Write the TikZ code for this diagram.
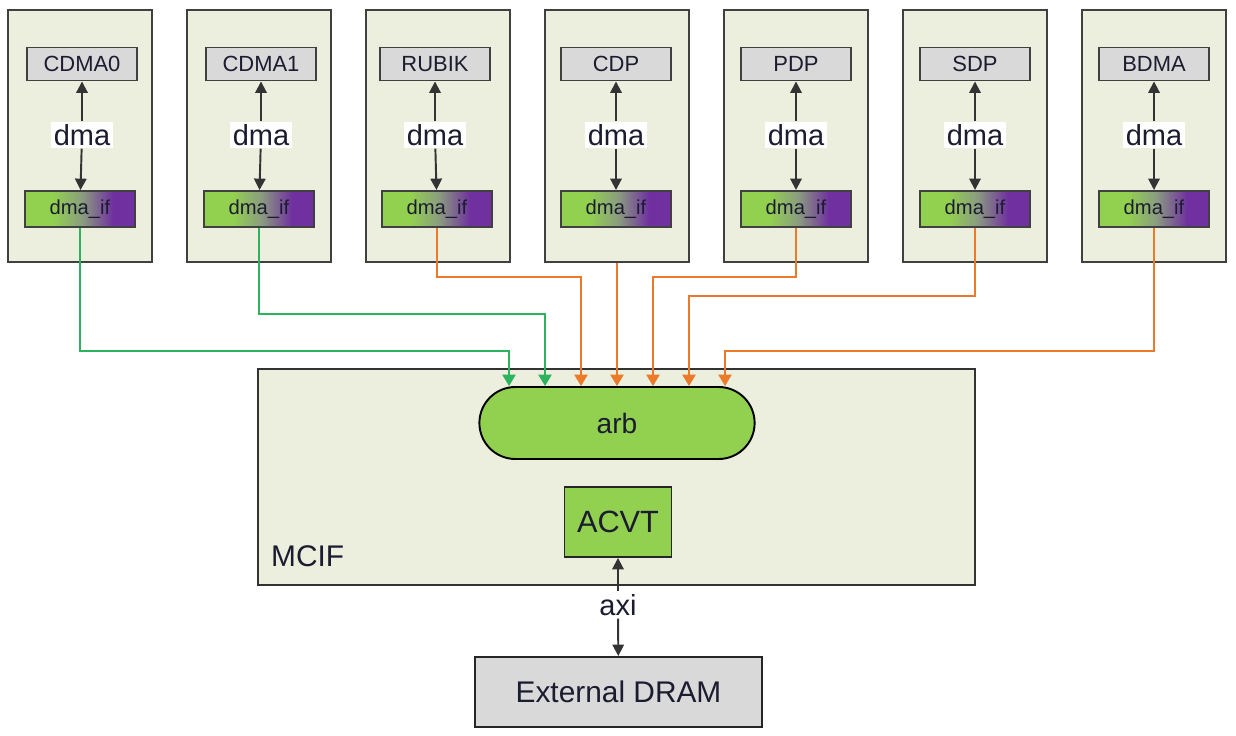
\documentclass[tikz,border=0pt]{standalone}
\usepackage{fontspec}
\setmainfont{Liberation Sans}
\usepackage{tikz}
\usetikzlibrary{arrows.meta}
\usetikzlibrary{calc}
\usetikzlibrary{shapes.misc}

\definecolor{unitbg}{HTML}{ECEFDE}
\definecolor{namebg}{HTML}{D9D9D9}
\definecolor{ifgreen}{HTML}{92D050}
\definecolor{ifmid}{HTML}{8A9C80}
\definecolor{ifpurple}{HTML}{7030A0}
\definecolor{rdgreen}{HTML}{2DB35E}
\definecolor{rdorange}{HTML}{EB7A2A}
\definecolor{txtcol}{HTML}{1C1C30}

\pgfdeclarehorizontalshading{ifshade}{100bp}{color(0bp)=(ifgreen); color(25bp)=(ifgreen); color(38bp)=(ifgreen); color(51bp)=(ifmid); color(65bp)=(ifpurple); color(100bp)=(ifpurple)}

\tikzset{
  unit/.style={draw=black!75, line width=1.1pt, fill=unitbg, minimum width=2.88cm, minimum height=5.04cm, inner sep=0pt},
  unitname/.style={draw=black!75, line width=1.1pt, fill=namebg, minimum width=2.2cm, minimum height=0.66cm, inner sep=0pt, text=txtcol, font=\fontsize{12.5}{12.5}\selectfont},
  dmaif/.style={draw=black!75, line width=1.1pt, shading=ifshade, shading angle=0, minimum width=2.2cm, minimum height=0.72cm, inner sep=0pt, text=txtcol, font=\fontsize{11.5}{11.5}\selectfont},
  buslbl/.style={fill=white, inner sep=1.5pt, text=txtcol, font=\fontsize{16.5}{16.5}\selectfont},
  bus/.style={draw=black!80, line width=1.1pt, -{Triangle[length=6.5pt,width=6.5pt]}},
  rdgrn/.style={draw=rdgreen, line width=1.1pt, -{Triangle[length=6.5pt,width=7.5pt]}},
  rdorg/.style={draw=rdorange, line width=1.1pt, -{Triangle[length=6.5pt,width=7.5pt]}}
}

\begin{document}
\begin{tikzpicture}[x=0.02cm, y=-0.02cm]
\useasboundingbox (0,0) rectangle (1236,736);

% the seven clients
\node[unit] (unit0) at (80,136) {};
\node[unitname] (name0) at (82,64) {CDMA0};
\node[buslbl] (dma0) at (82,135) {dma};
\node[dmaif] (if0) at (80,209) {dma\_if};
\draw[bus] (dma0) -- (name0);
\draw[bus] (dma0) -- (if0);

\node[unit] (unit1) at (259,136) {};
\node[unitname] (name1) at (261,64) {CDMA1};
\node[buslbl] (dma1) at (261,135) {dma};
\node[dmaif] (if1) at (259,209) {dma\_if};
\draw[bus] (dma1) -- (name1);
\draw[bus] (dma1) -- (if1);

\node[unit] (unit2) at (438,136) {};
\node[unitname] (name2) at (435,64) {RUBIK};
\node[buslbl] (dma2) at (435,135) {dma};
\node[dmaif] (if2) at (437,209) {dma\_if};
\draw[bus] (dma2) -- (name2);
\draw[bus] (dma2) -- (if2);

\node[unit] (unit3) at (617,136) {};
\node[unitname] (name3) at (616,64) {CDP};
\node[buslbl] (dma3) at (616,135) {dma};
\node[dmaif] (if3) at (616,209) {dma\_if};
\draw[bus] (dma3) -- (name3);
\draw[bus] (dma3) -- (if3);

\node[unit] (unit4) at (796,136) {};
\node[unitname] (name4) at (796,64) {PDP};
\node[buslbl] (dma4) at (796,135) {dma};
\node[dmaif] (if4) at (796,209) {dma\_if};
\draw[bus] (dma4) -- (name4);
\draw[bus] (dma4) -- (if4);

\node[unit] (unit5) at (975,136) {};
\node[unitname] (name5) at (975,64) {SDP};
\node[buslbl] (dma5) at (975,135) {dma};
\node[dmaif] (if5) at (975,209) {dma\_if};
\draw[bus] (dma5) -- (name5);
\draw[bus] (dma5) -- (if5);

\node[unit] (unit6) at (1154,136) {};
\node[unitname] (name6) at (1154,64) {BDMA};
\node[buslbl] (dma6) at (1154,135) {dma};
\node[dmaif] (if6) at (1154,209) {dma\_if};
\draw[bus] (dma6) -- (name6);
\draw[bus] (dma6) -- (if6);

% memory interface
\node[draw=black!80, line width=1.1pt, fill=unitbg, minimum width=14.34cm, minimum height=4.32cm, inner sep=0pt] (mcif) at (616.5,477) {};
\node[anchor=base west, text=txtcol, font=\fontsize{17}{17}\selectfont] (mciflbl) at (265,566) {MCIF};
\node[rounded rectangle, draw=black, line width=1.1pt, fill=ifgreen, minimum width=5.74cm, minimum height=1.44cm, text=txtcol, font=\fontsize{16}{16}\selectfont] (arb) at (617,423) {arb};
\node[draw=black!85, line width=1.1pt, fill=ifgreen, minimum width=2.14cm, minimum height=1.4cm, inner sep=0pt, text=txtcol, font=\fontsize{17.5}{17.5}\selectfont] (acvt) at (618,522) {ACVT};
\node[draw=black!85, line width=1.1pt, fill=namebg, minimum width=5.74cm, minimum height=1.4cm, inner sep=0pt, text=txtcol, font=\fontsize{17}{17}\selectfont] (dram) at (618.5,692) {External DRAM};
\node[buslbl] (axi) at (618,605) {axi};
\draw[bus] (axi) -- (acvt);
\draw[bus] (axi) -- (dram);

% read ports on arb
\coordinate (in0) at ($(arb.north)+(-108,0)$);
\coordinate (in1) at ($(arb.north)+(-72,0)$);
\coordinate (in2) at ($(arb.north)+(-36,0)$);
\coordinate (in3) at ($(arb.north)+(0,0)$);
\coordinate (in4) at ($(arb.north)+(36,0)$);
\coordinate (in5) at ($(arb.north)+(72,0)$);
\coordinate (in6) at ($(arb.north)+(108,0)$);

\draw[rdgrn] (if0.south) |- ($(in0)+(0,-35)$) -- (in0);
\draw[rdgrn] (if1.south) |- ($(in1)+(0,-72)$) -- (in1);
\draw[rdorg] (if2.south) |- ($(in2)+(0,-109)$) -- (in2);
\draw[rdorg] (unit3.south) -- (in3);
\draw[rdorg] (if4.south) |- ($(in4)+(0,-109)$) -- (in4);
\draw[rdorg] (if5.south) |- ($(in5)+(0,-90)$) -- (in5);
\draw[rdorg] (if6.south) |- ($(in6)+(0,-35)$) -- (in6);
\end{tikzpicture}
\end{document}
